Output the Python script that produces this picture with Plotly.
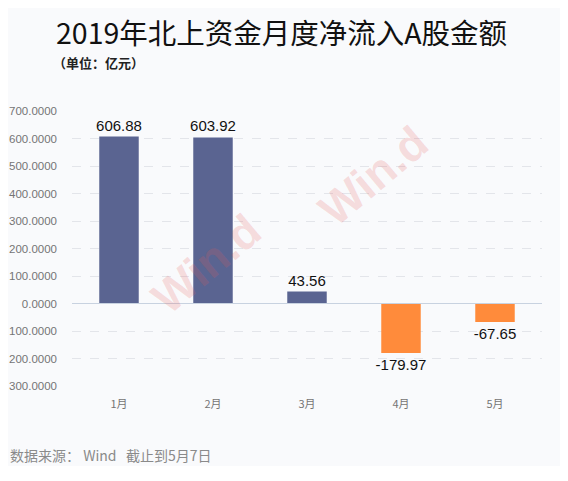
import plotly.graph_objects as go

# ---- datos ----
months = ["1月", "2月", "3月", "4月", "5月"]
net_inflow = [606.88, 603.92, 43.56, -179.97, -67.65]
tick_vals = [700, 600, 500, 400, 300, 200, 100, 0, -100, -200, -300]
tick_text = ["700.0000", "600.0000", "500.0000", "400.0000", "300.0000", "200.0000",
             "100.0000", "0.0000", "100.0000", "200.0000", "300.0000"]

BLUE = "#5A6491"; ORANGE = "#FF8B3B"; GRID = "#E3E5EA"; MUTED = "#757575"
CJK = "Noto Sans CJK SC, sans-serif"; LATIN = "Arial, Liberation Sans, sans-serif"

# la página deja ~8px de margen alrededor del div; la figura es la "tarjeta"
W, H = 552, 458
PL, PT, PW, PH = 72, 111, 470, 275   # área de trazado en píxeles de la página


def px(x, y):
    """Píxeles de la página -> coordenadas paper del área de trazado."""
    return (x - PL) / PW, (PT + PH - y) / PH


colors = [BLUE if v >= 0 else ORANGE for v in net_inflow]
fig = go.Figure(go.Bar(
    x=months, y=net_inflow, marker_color=colors, marker_line_width=0, width=0.42,
    text=[f"{v:.2f}" for v in net_inflow], textposition="outside", cliponaxis=False,
    constraintext="none",
    textfont=dict(family=LATIN, size=15, color="#111111")))

fig.add_hline(y=0, line_color="#C8D2E0", line_width=1.2)

# marca de agua
for cx, cy in [(206, 264), (373, 176)]:
    x, y = px(cx, cy)
    fig.add_annotation(x=x, y=y, xref="paper", yref="paper", text="<b>Win.d</b>",
                       xanchor="center", yanchor="middle", showarrow=False, textangle=-40,
                       font=dict(family=LATIN, size=46, color="rgba(230,90,90,0.2)"))

# título, unidad y fuente
x, y = px(281, 32)
fig.add_annotation(x=x, y=y, xref="paper", yref="paper", xanchor="center", yanchor="middle",
                   showarrow=False, text="2019年北上资金月度净流入A股金额",
                   font=dict(family=CJK, size=28.5, color="#111111"))
x, y = px(51, 63)
fig.add_annotation(x=x, y=y, xref="paper", yref="paper", xanchor="left", yanchor="middle",
                   showarrow=False, text="<b>（单位：亿元）</b>",
                   font=dict(family=CJK, size=13, color="#222222"))
x, y = px(8, 455)
fig.add_annotation(x=x, y=y, xref="paper", yref="paper", xanchor="left", yanchor="middle",
                   showarrow=False, text="数据来源： Wind   截止到5月7日",
                   font=dict(family=CJK, size=14, color="#8A8A8A"))

fig.update_layout(
    width=W, height=H,
    margin=dict(l=PL - 8, r=W - (PL - 8) - PW, t=PT - 8, b=H - (PT - 8) - PH),
    paper_bgcolor="#F9FAFC", plot_bgcolor="rgba(0,0,0,0)", showlegend=False,
    xaxis=dict(showgrid=False, showline=False, ticks="", ticklabelstandoff=10, automargin=False,
               tickfont=dict(size=11, color=MUTED, family=CJK)),
    yaxis=dict(range=[-300, 700], tickvals=tick_vals, ticktext=tick_text, zeroline=False,
               showgrid=True, gridcolor=GRID, griddash="dash", gridwidth=1, automargin=False,
               ticklabelstandoff=14, tickfont=dict(size=11.5, color=MUTED, family=LATIN)))

fig.write_html("out.html")
